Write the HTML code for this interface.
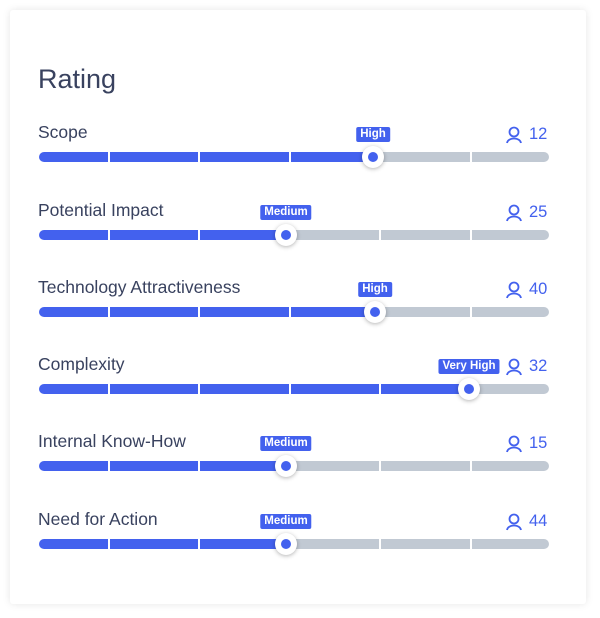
<!DOCTYPE html>
<html><head><style>
body{margin:0;width:600px;height:618px;background:#fff;font-family:"Liberation Sans",sans-serif;position:relative;overflow:hidden}
.card{position:absolute;left:10px;top:10px;width:576px;height:594px;background:#fff;box-shadow:0 0 8px rgba(0,0,0,0.10);border-radius:3px}
.t{position:absolute;left:38px;top:64px;font-size:27px;color:#39425f}
.lab{position:absolute;left:38px;font-size:17.5px;color:#39425f}
.seg{position:absolute;height:10px}
.knob{position:absolute;width:22px;height:22px;border-radius:50%;background:#fff;box-shadow:0 1px 4px rgba(0,0,0,0.3)}
.knob:after{content:"";position:absolute;left:6px;top:6px;width:10px;height:10px;border-radius:50%;background:#4361ee}
.badge{position:absolute;background:#4361ee;color:#fff;font-size:11.5px;font-weight:bold;padding:1px 4px;border-radius:2px;line-height:13px;transform:translateX(-50%)}
.cnt{position:absolute;left:506px;font-size:16.5px;color:#4361ee;display:flex;align-items:center;gap:7px}
</style></head><body>
<div class="card"></div>
<div class="t">Rating</div>
<div id="rows"></div>
<script>
var rows=[["Scope",157,373,"High","12"],["Potential Impact",235,286,"Medium","25"],["Technology Attractiveness",312,375,"High","40"],["Complexity",389,469,"Very High","32"],["Internal Know-How",466,286,"Medium","15"],["Need for Action",544,286,"Medium","44"]];
var segs=[[39,108],[110,198],[200,289],[291,379],[381,470],[472,549]];
var h="";
rows.forEach(function(r){
 var y=r[1];
 h+='<div class="lab" style="top:'+(y-35)+'px">'+r[0]+'</div>';
 segs.forEach(function(s,i){
  var a=s[0],b=s[1];
  var rad=(i==0?'5px 0 0 5px':(i==5?'0 5px 5px 0':'0'));
  if(b<=r[2]) h+='<div class="seg" style="left:'+a+'px;width:'+(b-a)+'px;top:'+(y-5)+'px;background:#4361ee;border-radius:'+rad+'"></div>';
  else if(a>=r[2]) h+='<div class="seg" style="left:'+a+'px;width:'+(b-a)+'px;top:'+(y-5)+'px;background:#c1c9d3;border-radius:'+rad+'"></div>';
  else {h+='<div class="seg" style="left:'+a+'px;width:'+(r[2]-a)+'px;top:'+(y-5)+'px;background:#4361ee;border-radius:'+(i==0?'5px 0 0 5px':'0')+'"></div>';
   h+='<div class="seg" style="left:'+r[2]+'px;width:'+(b-r[2])+'px;top:'+(y-5)+'px;background:#c1c9d3;border-radius:'+(i==5?'0 5px 5px 0':'0')+'"></div>';}
 });
 h+='<div class="knob" style="left:'+(r[2]-11)+'px;top:'+(y-11)+'px"></div>';
 h+='<div class="badge" style="left:'+r[2]+'px;top:'+(y-30)+'px">'+r[3]+'</div>';
 h+='<div class="cnt" style="top:'+(y-32)+'px"><svg width="16" height="18" viewBox="0 0 16 18"><circle cx="8" cy="6" r="4.5" fill="none" stroke="#4361ee" stroke-width="1.8"/><path d="M1 17 C2 11 14 11 15 17" fill="none" stroke="#4361ee" stroke-width="1.8"/></svg>'+r[4]+'</div>';
});
document.getElementById("rows").innerHTML=h;
</script>
</body></html>
